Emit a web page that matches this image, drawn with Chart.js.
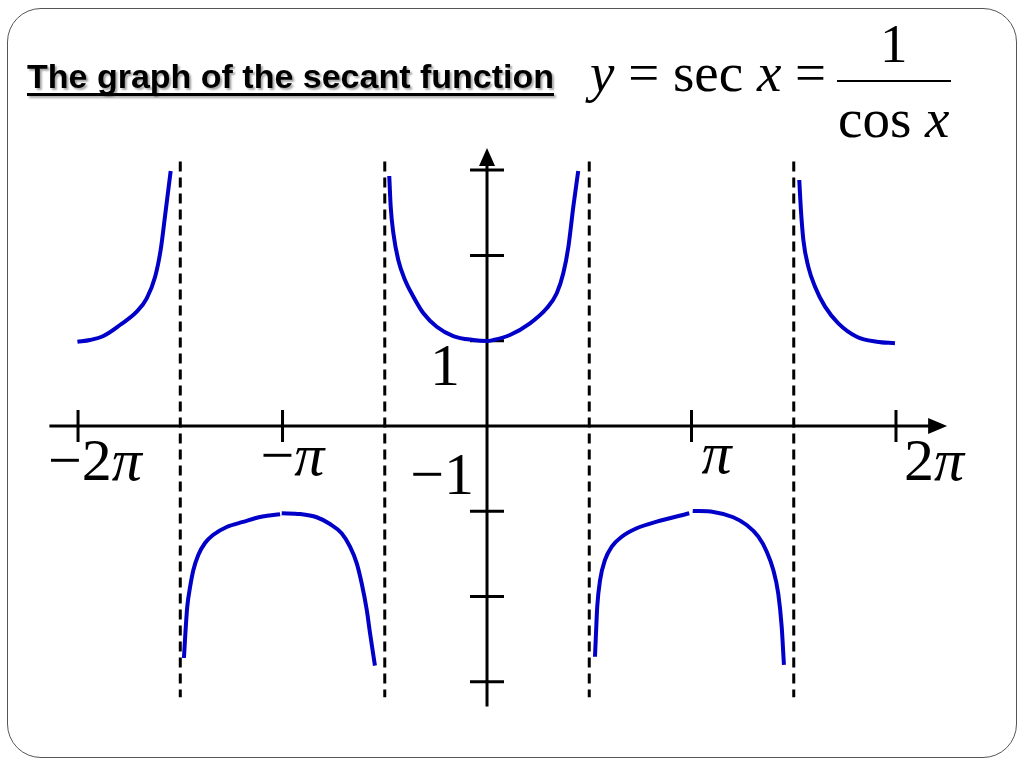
<!DOCTYPE html>
<html>
<head>
<meta charset="utf-8">
<script src="https://cdn.jsdelivr.net/npm/chart.js@4"></script>
<style>
  body { margin: 0; background: #fff; }
  #wrap { position: relative; width: 1024px; height: 768px; overflow: hidden; }
  #frame { position: absolute; left: 7px; top: 8px; width: 1008px; height: 748px;
           border: 1px solid #555; border-radius: 34px; }
  #chart { position: absolute; left: 0; top: 0; }
  #title { position: absolute; left: 27px; top: 59px; font: bold 34px "Liberation Sans", Arial, sans-serif;
           line-height: 34px; color: #000; text-decoration: underline; text-decoration-thickness: 3px;
           text-decoration-skip-ink: none; text-underline-offset: 5px;
           text-shadow: 2px 2px 2px rgba(0,0,0,0.35); white-space: nowrap; }
  .m { position: absolute; font: 55px "Liberation Serif", "Times New Roman", serif; line-height: 55px;
       white-space: pre; color: #000; }
  .m i { font-style: italic; }
  #bar { position: absolute; left: 837px; top: 80px; width: 114px; height: 2px; background: #000; }
</style>
</head>
<body>
<div id="wrap">
  <div id="frame"></div>
  <canvas id="chart" width="1024" height="768"></canvas>
  <div id="title">The graph of the secant function</div>
  <div class="m" style="left:590px; top:45px;"><i>y</i> = sec <i>x</i> =</div>
  <div class="m" style="left:880px; top:16px;">1</div>
  <div id="bar"></div>
  <div class="m" style="left:838px; top:91px;">cos <i>x</i></div>
</div>
<script>
const upperLeft = [[-2.003,0.988],[-1.941,1.008],[-1.876,1.055],[-1.795,1.184],[-1.713,1.34],
  [-1.664,1.497],[-1.623,1.75],[-1.596,2.063],[-1.575,2.454],[-1.547,2.989]];
const upperMid = [[-0.478,2.931],[-0.471,2.571],[-0.458,2.259],[-0.434,1.946],[-0.401,1.712],
  [-0.36,1.516],[-0.311,1.321],[-0.246,1.164],[-0.165,1.055],[-0.067,1.008],[0,0.996],
  [0.031,1.008],[0.112,1.067],[0.21,1.204],[0.292,1.38],[0.341,1.556],[0.373,1.79],
  [0.398,2.102],[0.422,2.571],[0.446,2.989]];
const upperRight = [[1.527,2.884],[1.534,2.571],[1.547,2.181],[1.571,1.868],[1.604,1.633],
  [1.653,1.399],[1.718,1.204],[1.808,1.047],[1.906,0.988],[1.995,0.97]];
const lowerLeftA = [[-1.482,-2.72],[-1.475,-2.427],[-1.466,-2.122],[-1.452,-1.887],[-1.436,-1.688],
  [-1.412,-1.512],[-1.379,-1.372],[-1.34,-1.278],[-1.273,-1.184],[-1.193,-1.125],[-1.11,-1.067],
  [-1.012,-1.035]];
const lowerLeftB = [[-1.004,-1.023],[-0.914,-1.032],[-0.833,-1.07],[-0.768,-1.149],[-0.711,-1.258],
  [-0.67,-1.415],[-0.637,-1.61],[-0.613,-1.844],[-0.588,-2.157],[-0.572,-2.43],[-0.548,-2.81]];
const lowerRightA = [[0.528,-2.705],[0.533,-2.427],[0.539,-2.118],[0.553,-1.805],[0.577,-1.571],
  [0.61,-1.415],[0.659,-1.298],[0.732,-1.199],[0.83,-1.122],[0.989,-1.023]];
const lowerRightB = [[1.006,-0.996],[1.107,-1.008],[1.204,-1.07],[1.27,-1.161],[1.327,-1.298],
  [1.368,-1.474],[1.4,-1.688],[1.424,-1.961],[1.441,-2.353],[1.452,-2.802]];

const asymptotes = [-1.5, -0.5, 0.5, 1.5];
const asymptoteSpan = [3.1, -3.18];

const xTicks = [-2, -1, 1, 2];
const xTickLabels = [['\u22122', '\u03c0'], ['\u2212', '\u03c0'], ['', '\u03c0'], ['2', '\u03c0']];
const yTicks = [3, 2, 1, -1, -2, -3];
const yTickLabels = { '1': '1', '-1': '\u22121' };
const xAxisRange = [-2.14, 2.25];
const yAxisRange = [-3.29, 3.26];

const toPts = arr => arr.map(p => ({ x: p[0], y: p[1] }));
const curve = arr => ({
  data: toPts(arr), showLine: true, pointRadius: 0, borderWidth: 4,
  borderColor: '#0000c8', cubicInterpolationMode: 'monotone', clip: false
});
const dashed = x => ({
  data: asymptoteSpan.map(y => ({ x, y })), showLine: true, pointRadius: 0,
  borderWidth: 3, borderColor: '#000', borderDash: [10, 6], clip: false
});

// axes, arrows, ticks and labels, placed through the chart scales
const axesPlugin = {
  id: 'axes',
  beforeDatasetsDraw(chart) {
    const { ctx } = chart;
    const xs = chart.scales.x, ys = chart.scales.y;
    const x0 = xs.getPixelForValue(0), y0 = ys.getPixelForValue(0);
    const xl = xs.getPixelForValue(xAxisRange[0]), xr = xs.getPixelForValue(xAxisRange[1]);
    const yb = ys.getPixelForValue(yAxisRange[0]), yt = ys.getPixelForValue(yAxisRange[1]);
    ctx.save();
    ctx.strokeStyle = '#000';
    ctx.fillStyle = '#000';
    ctx.lineWidth = 3;
    ctx.beginPath();
    ctx.moveTo(xl, y0); ctx.lineTo(xr - 10, y0);
    ctx.moveTo(x0, yb); ctx.lineTo(x0, yt + 10);
    xTicks.forEach(v => {
      const px = xs.getPixelForValue(v);
      ctx.moveTo(px, y0 - 16); ctx.lineTo(px, y0 + 16);
    });
    yTicks.forEach(v => {
      const py = ys.getPixelForValue(v);
      ctx.moveTo(x0 - 17, py); ctx.lineTo(x0 + 17, py);
    });
    ctx.stroke();
    // arrow heads
    ctx.beginPath();
    ctx.moveTo(xr, y0); ctx.lineTo(xr - 19, y0 - 8); ctx.lineTo(xr - 19, y0 + 8); ctx.closePath();
    ctx.moveTo(x0, yt); ctx.lineTo(x0 - 8, yt + 18); ctx.lineTo(x0 + 8, yt + 18); ctx.closePath();
    ctx.fill();

    // labels
    const up = '60px "Liberation Serif", "Times New Roman", serif';
    const it = 'italic 60px "Liberation Serif", "Times New Roman", serif';
    const xOff = [[-30, 54], [-22, 49], [10, 47], [8, 54]];
    ctx.textBaseline = 'alphabetic';
    xTicks.forEach((v, i) => {
      const px = xs.getPixelForValue(v) + xOff[i][0];
      const py = y0 + xOff[i][1];
      ctx.font = up;
      ctx.fillText(xTickLabels[i][0], px, py);
      const w = ctx.measureText(xTickLabels[i][0]).width;
      ctx.font = it;
      ctx.fillText(xTickLabels[i][1], px + w, py);
    });
    ctx.font = up;
    ctx.textAlign = 'right';
    ctx.fillText(yTickLabels['1'], x0 - 27, ys.getPixelForValue(1) + 44);
    ctx.fillText(yTickLabels['-1'], x0 - 13, ys.getPixelForValue(-1) - 17);
    ctx.restore();
  }
};

new Chart(document.getElementById('chart'), {
  type: 'scatter',
  data: {
    datasets: [
      ...asymptotes.map(dashed),
      curve(upperLeft), curve(upperMid), curve(upperRight),
      curve(lowerLeftA), curve(lowerLeftB), curve(lowerRightA), curve(lowerRightB)
    ]
  },
  options: {
    responsive: false,
    animation: false,
    layout: { padding: { left: 40, right: 64, top: 140, bottom: 48 } },
    plugins: { legend: { display: false }, tooltip: { enabled: false } },
    scales: {
      x: { type: 'linear', min: -2.186, max: 2.313, display: false },
      y: { type: 'linear', min: -3.447, max: 3.353, display: false }
    }
  },
  plugins: [axesPlugin]
});
</script>
</body>
</html>
